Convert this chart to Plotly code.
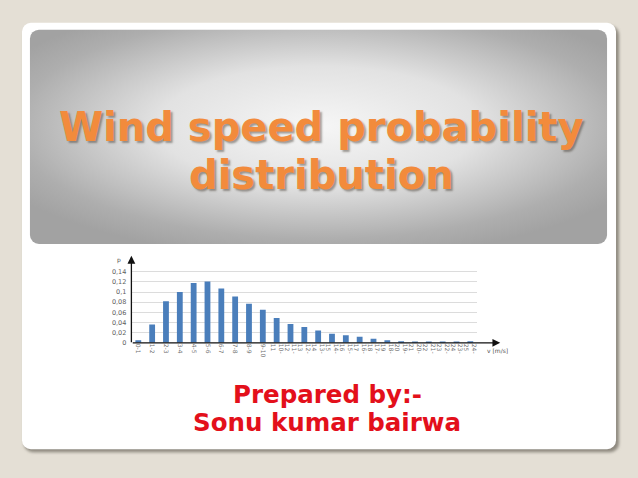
import base64
import plotly.graph_objects as go

W, H = 638, 478

# wind speed classes [m/s] and their probability
speed_bins = ['0-1', '1-2', '2-3', '3-4', '4-5', '5-6', '6-7', '7-8', '8-9',
              '9-10', '10-11', '11-12', '12-13', '13-14', '14-15', '15-16',
              '16-17', '17-18', '18-19', '19-20', '20-21', '21-22', '22-23',
              '23-24', '24-25']
probability = [0.005, 0.036, 0.082, 0.100, 0.118, 0.121, 0.107, 0.091, 0.077,
               0.065, 0.049, 0.037, 0.031, 0.024, 0.018, 0.015, 0.012, 0.008,
               0.005, 0.003, 0.002, 0.001, 0.001, 0.0005, 0.003]
y_ticks = [0, 0.02, 0.04, 0.06, 0.08, 0.1, 0.12, 0.14]
y_tick_text = ['0', '0,02', '0,04', '0,06', '0,08', '0,1', '0,12', '0,14']

title_lines = ['Wind speed probability', 'distribution']
author_lines = ['Prepared by:-', 'Sonu kumar bairwa']


def px(x):
    return x / W


def py(y):
    return 1 - y / H


# slide decoration: beige page, white card with shadow, grey radial title box
svg = f'''<svg xmlns="http://www.w3.org/2000/svg" width="{W}" height="{H}" viewBox="0 0 {W} {H}">
<defs>
<radialGradient id="g" cx="50%" cy="45%" r="62%">
<stop offset="0" stop-color="#f6f6f6"/>
<stop offset="0.45" stop-color="#e2e2e2"/>
<stop offset="0.85" stop-color="#aeaeae"/>
<stop offset="1" stop-color="#a2a2a2"/>
</radialGradient>
<filter id="s" x="-5%" y="-5%" width="110%" height="110%"><feGaussianBlur stdDeviation="1.5"/></filter>
</defs>
<rect x="24" y="26" width="596" height="430" rx="9" fill="#8f8a80" filter="url(#s)"/>
<rect x="22" y="23" width="595" height="430" rx="9" fill="#ffffff"/>
<rect x="30" y="30" width="578" height="216" rx="9" fill="url(#g)"/>
</svg>'''
bg_src = 'data:image/svg+xml;base64,' + base64.b64encode(svg.encode()).decode()

fig = go.Figure()
fig.add_trace(go.Bar(
    x=speed_bins, y=probability,
    marker=dict(color='#4a7ebb', line_width=0),
    hoverinfo='x+y'))

# tick labels: long ones wrap onto two lines like the original picture
tick_labels = [s if len(s) <= 4 else s.replace('-', '-<br>') for s in speed_bins]

fig.update_layout(
    width=W, height=H,
    margin=dict(l=0, r=0, t=0, b=0),
    paper_bgcolor='#e4dfd5',
    plot_bgcolor='rgba(0,0,0,0)',
    showlegend=False,
    bargap=0.58,
    xaxis=dict(type='category', domain=[px(131.6), px(478)],
               range=[-0.5, 24.5],
               tickvals=speed_bins, ticktext=tick_labels, tickangle=90,
               tickfont=dict(family='DejaVu Sans', size=6, color='#707070'),
               showgrid=False, zeroline=False, showline=False, ticks=''),
    yaxis=dict(domain=[py(345.7), py(263.8)], range=[0, 0.16],
               tickvals=y_ticks, ticktext=y_tick_text,
               tickfont=dict(family='DejaVu Sans', size=6.5, color='#606060'),
               showgrid=True, gridcolor='#dcdcdc', gridwidth=1,
               zeroline=False, showline=False, ticks='', ticklabelstandoff=4),
    images=[dict(source=bg_src, xref='paper', yref='paper', x=0, y=1,
                 sizex=1, sizey=1, sizing='stretch', xanchor='left',
                 yanchor='top', layer='below')],
)

ann = []
# axis arrows
ann.append(dict(xref='paper', yref='paper', x=px(131.6), y=py(258),
                ax=0, ay=88, showarrow=True, arrowhead=2, arrowsize=1.2,
                arrowwidth=1.3, arrowcolor='#111111', text=''))
ann.append(dict(xref='paper', yref='paper', x=px(501), y=py(345.7),
                ax=-369, ay=0, showarrow=True, arrowhead=2, arrowsize=1.2,
                arrowwidth=1.3, arrowcolor='#111111', text=''))
ann.append(dict(xref='paper', yref='paper', x=px(119), y=py(262),
                xanchor='center', yanchor='middle', text='p', showarrow=False,
                font=dict(family='DejaVu Sans', size=6, color='#505050')))
ann.append(dict(xref='paper', yref='paper', x=px(498), y=py(353),
                xanchor='center', yanchor='middle', text='v [m/s]',
                showarrow=False,
                font=dict(family='DejaVu Sans', size=6, color='#505050')))

# title, orange with a soft drop shadow
for line, yc in zip(title_lines, [128, 176]):
    ann.append(dict(xref='paper', yref='paper', x=px(322), y=py(yc),
                    xanchor='center', yanchor='middle',
                    text=f'<b>{line}</b>', showarrow=False,
                    font=dict(family='DejaVu Sans', size=40, color='#f28b3c',
                              shadow='2px 2px 2px rgba(60,50,40,0.45)')))

for line, yc in zip(author_lines, [398, 426]):
    ann.append(dict(xref='paper', yref='paper', x=px(328), y=py(yc),
                    xanchor='center', yanchor='middle',
                    text=f'<b>{line}</b>', showarrow=False,
                    font=dict(family='DejaVu Sans', size=24.5,
                              color='#e3101b')))

fig.update_layout(annotations=ann)

# drop the browser's default 8px body margin so the slide fills the window
fig.write_html('out.html', config={'displayModeBar': False},
               post_script="document.body.style.margin='0';")
